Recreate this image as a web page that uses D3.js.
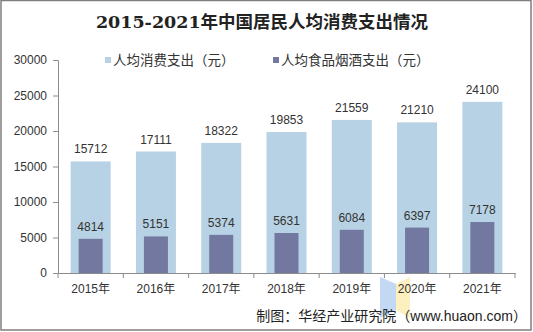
<!DOCTYPE html>
<html><head><meta charset="utf-8">
<script src="https://cdn.jsdelivr.net/npm/d3@7"></script>
<style>body{margin:0;background:#fff}svg{display:block}</style>
</head><body>
<svg id="c" width="533" height="332"></svg>
<script>
const years = ["2015年","2016年","2017年","2018年","2019年","2020年","2021年"];
const consumption = [15712,17111,18322,19853,21559,21210,24100];
const food = [4814,5151,5374,5631,6084,6397,7178];
const yTicks = [0,5000,10000,15000,20000,25000,30000];
const seriesNames = ["人均消费支出（元）","人均食品烟酒支出（元）"];
const colors = ["#b7d2e4","#7278a0"];

const svg = d3.select("#c");
svg.append("rect").attr("x",1).attr("y",0.5).attr("width",530).attr("height",329.5)
  .attr("fill","#fff").attr("stroke","#7f7f7f").attr("stroke-width",1.5);

const fontSans = "Arial, 'Liberation Sans', 'Noto Sans CJK SC', sans-serif";
svg.append("text").attr("x",262).attr("y",28).attr("text-anchor","middle")
  .attr("font-family","'DejaVu Serif', 'Liberation Serif', 'Noto Sans CJK SC', serif")
  .attr("font-weight","bold").attr("font-size",17.5).attr("fill","#222")
  .text("2015-2021年中国居民人均消费支出情况");

const x = d3.scaleBand().domain(years).range([58,515]);
const y = d3.scaleLinear().domain([0,30000]).range([273,60]);

// watermark logo (decorative, behind)
const wm = svg.append("g").attr("opacity",0.7);
wm.append("path").attr("d","M380,277 L396,284 L396,310 L380,318 Z").attr("fill","#a9c8ef");
wm.append("path").attr("d","M396,284 L410,277 L410,318 L396,310 Z").attr("fill","#fbe9a6");

// legend
const leg = svg.append("g").attr("font-family",fontSans).attr("font-size",13.5).attr("fill","#333");
const legX = [105,273];
seriesNames.forEach((n,i)=>{
  leg.append("rect").attr("x",legX[i]).attr("y",57).attr("width",6).attr("height",6).attr("fill",colors[i]);
  leg.append("text").attr("x",legX[i]+8).attr("y",65).text(n);
});

// axes
const yAxis = svg.append("g").attr("transform","translate(58,0)")
  .call(d3.axisLeft(y).tickValues(yTicks).tickSize(5).tickPadding(6).tickFormat(d3.format("d")));
const xAxis = svg.append("g").attr("transform","translate(0,273)")
  .call(d3.axisBottom(x).tickSize(0).tickPadding(11));
[yAxis,xAxis].forEach(a=>{
  a.selectAll("path.domain").attr("stroke","#8c8c8c");
  a.selectAll("line").attr("stroke","#8c8c8c");
  a.selectAll("text").attr("font-family",fontSans).attr("font-size",12).attr("fill","#333");
});
xAxis.selectAll(".bound").data(years.concat(["_end"])).enter().append("line")
  .attr("x1",(d,i)=>i<years.length?x(d):x.range()[1]).attr("x2",(d,i)=>i<years.length?x(d):x.range()[1])
  .attr("y1",0).attr("y2",5).attr("stroke","#8c8c8c");

// bars
const g = svg.append("g");
const cx = d=>x(d)+x.bandwidth()/2;
g.selectAll(".b1").data(years).enter().append("rect")
  .attr("x",d=>cx(d)-20).attr("width",40)
  .attr("y",(d,i)=>y(consumption[i])).attr("height",(d,i)=>y(0)-y(consumption[i]))
  .attr("fill",colors[0]);
g.selectAll(".b2").data(years).enter().append("rect")
  .attr("x",d=>cx(d)-12).attr("width",24)
  .attr("y",(d,i)=>y(food[i])).attr("height",(d,i)=>y(0)-y(food[i]))
  .attr("fill",colors[1]);
const lab = svg.append("g").attr("font-family",fontSans).attr("font-size",12).attr("fill","#333").attr("text-anchor","middle");
years.forEach((d,i)=>{
  lab.append("text").attr("x",cx(d)).attr("y",y(consumption[i])-8).text(consumption[i]);
  lab.append("text").attr("x",cx(d)).attr("y",y(food[i])-8).text(food[i]);
});

// footer
svg.append("text").attr("x",527).attr("y",321).attr("text-anchor","end")
  .attr("font-family",fontSans).attr("font-size",14).attr("fill","#222")
  .text("制图：华经产业研究院（www.huaon.com）");
</script>
</body></html>
